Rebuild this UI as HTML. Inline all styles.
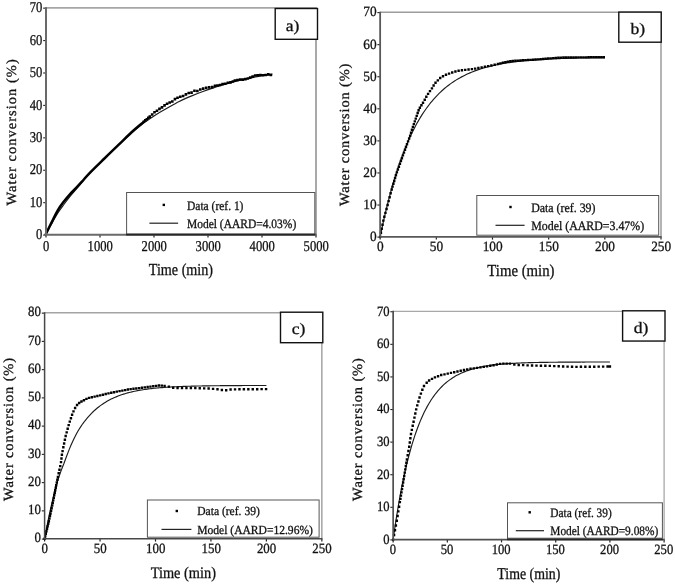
<!DOCTYPE html>
<html><head><meta charset="utf-8"><title>Water conversion vs time</title>
<style>
html,body{margin:0;padding:0;background:#fff;}
svg{display:block;font-family:"Liberation Serif", serif;text-rendering:geometricPrecision;}
</style></head>
<body>
<svg width="675" height="585" viewBox="0 0 675 585">
<rect width="675" height="585" fill="#fff"/>
<path d="M46.0,7.85H316.0V234.8" fill="none" stroke="#a6a6a6" stroke-width="1.9"/>
<path d="M43.20,235.10H46.0" stroke="#222" stroke-width="1.1"/>
<text transform="translate(42.30,239.30) scale(0.8400,1)" font-size="15.0" text-anchor="end" fill="#111" stroke="#111" stroke-width="0.3">0</text>
<path d="M43.20,202.68H46.0" stroke="#222" stroke-width="1.1"/>
<text transform="translate(42.30,206.88) scale(0.8400,1)" font-size="15.0" text-anchor="end" fill="#111" stroke="#111" stroke-width="0.3">10</text>
<path d="M43.20,170.26H46.0" stroke="#222" stroke-width="1.1"/>
<text transform="translate(42.30,174.46) scale(0.8400,1)" font-size="15.0" text-anchor="end" fill="#111" stroke="#111" stroke-width="0.3">20</text>
<path d="M43.20,137.84H46.0" stroke="#222" stroke-width="1.1"/>
<text transform="translate(42.30,142.04) scale(0.8400,1)" font-size="15.0" text-anchor="end" fill="#111" stroke="#111" stroke-width="0.3">30</text>
<path d="M43.20,105.41H46.0" stroke="#222" stroke-width="1.1"/>
<text transform="translate(42.30,109.61) scale(0.8400,1)" font-size="15.0" text-anchor="end" fill="#111" stroke="#111" stroke-width="0.3">40</text>
<path d="M43.20,72.99H46.0" stroke="#222" stroke-width="1.1"/>
<text transform="translate(42.30,77.19) scale(0.8400,1)" font-size="15.0" text-anchor="end" fill="#111" stroke="#111" stroke-width="0.3">50</text>
<path d="M43.20,40.57H46.0" stroke="#222" stroke-width="1.1"/>
<text transform="translate(42.30,44.77) scale(0.8400,1)" font-size="15.0" text-anchor="end" fill="#111" stroke="#111" stroke-width="0.3">60</text>
<path d="M43.20,8.15H46.0" stroke="#222" stroke-width="1.1"/>
<text transform="translate(42.30,12.35) scale(0.8400,1)" font-size="15.0" text-anchor="end" fill="#111" stroke="#111" stroke-width="0.3">70</text>
<path d="M46.00,234.8V237.60" stroke="#222" stroke-width="1.2"/>
<text transform="translate(46.20,250.90) scale(0.8400,1)" font-size="15.0" text-anchor="middle" fill="#111" stroke="#111" stroke-width="0.3">0</text>
<path d="M100.00,234.8V237.60" stroke="#222" stroke-width="1.2"/>
<text transform="translate(100.20,250.90) scale(0.8400,1)" font-size="15.0" text-anchor="middle" fill="#111" stroke="#111" stroke-width="0.3">1000</text>
<path d="M154.00,234.8V237.60" stroke="#222" stroke-width="1.2"/>
<text transform="translate(154.20,250.90) scale(0.8400,1)" font-size="15.0" text-anchor="middle" fill="#111" stroke="#111" stroke-width="0.3">2000</text>
<path d="M208.00,234.8V237.60" stroke="#222" stroke-width="1.2"/>
<text transform="translate(208.20,250.90) scale(0.8400,1)" font-size="15.0" text-anchor="middle" fill="#111" stroke="#111" stroke-width="0.3">3000</text>
<path d="M262.00,234.8V237.60" stroke="#222" stroke-width="1.2"/>
<text transform="translate(262.20,250.90) scale(0.8400,1)" font-size="15.0" text-anchor="middle" fill="#111" stroke="#111" stroke-width="0.3">4000</text>
<path d="M316.00,234.8V237.60" stroke="#222" stroke-width="1.2"/>
<text transform="translate(316.20,250.90) scale(0.8400,1)" font-size="15.0" text-anchor="middle" fill="#111" stroke="#111" stroke-width="0.3">5000</text>
<text transform="translate(180.90,275.45) scale(0.8429,1)" font-size="16.8" text-anchor="middle" fill="#111" stroke="#111" stroke-width="0.3">Time (min)</text>
<text transform="translate(16.40,205.60) rotate(-90) scale(1.0300,1)" font-size="14.0" text-anchor="start" fill="#111" stroke="#111" stroke-width="0.3" letter-spacing="1.031">Water conversion (%)</text>
<path d="M45.80,234.40C46.83,232.53 49.98,226.78 52.00,223.20C54.02,219.62 55.92,216.02 57.90,212.90C59.88,209.78 61.90,207.20 63.90,204.50C65.90,201.80 67.90,199.18 69.90,196.70C71.90,194.22 73.90,191.98 75.90,189.60C77.90,187.22 79.73,185.02 81.90,182.40C84.07,179.78 85.23,177.80 88.90,173.90C92.57,170.00 98.88,163.87 103.90,159.00C108.92,154.13 114.35,149.05 119.00,144.70C123.65,140.35 127.68,136.50 131.80,132.90C135.92,129.30 139.75,126.10 143.70,123.10C147.65,120.10 151.55,117.42 155.50,114.90C159.45,112.38 163.45,110.25 167.40,108.00C171.35,105.75 175.25,103.38 179.20,101.40C183.15,99.42 187.15,97.75 191.10,96.10C195.05,94.45 198.95,92.95 202.90,91.50C206.85,90.05 210.85,88.67 214.80,87.40C218.75,86.13 222.65,85.03 226.60,83.90C230.55,82.77 234.55,81.58 238.50,80.60C242.45,79.62 246.35,78.83 250.30,78.00C254.25,77.17 258.50,76.27 262.20,75.60C265.90,74.93 270.78,74.27 272.50,74.00" fill="none" stroke="#1c1c1c" stroke-width="1.15"/>
<path d="M45.80,234.20C46.83,232.10 49.98,225.62 52.00,221.60C54.02,217.58 55.92,213.45 57.90,210.10C59.88,206.75 61.90,204.13 63.90,201.50C65.90,198.87 67.90,196.52 69.90,194.30C71.90,192.08 73.90,190.30 75.90,188.20C77.90,186.10 79.73,184.10 81.90,181.70C84.07,179.30 85.23,177.58 88.90,173.80C92.57,170.02 98.88,163.90 103.90,159.00C108.92,154.10 114.35,148.90 119.00,144.40C123.65,139.90 127.68,135.75 131.80,132.00C135.92,128.25 141.72,123.58 143.70,121.90" fill="none" stroke="#000" stroke-width="2.5" stroke-linecap="round"/><path d="M142.51,120.44h2.6v2.6h-2.6zM144.01,119.06h2.6v2.6h-2.6zM145.51,117.95h2.6v2.6h-2.6zM147.01,116.41h2.6v2.6h-2.6zM148.51,115.28h2.6v2.6h-2.6zM150.85,113.17h2.6v2.6h-2.6zM153.20,111.00h2.6v2.6h-2.6zM155.64,109.38h2.6v2.6h-2.6zM158.17,107.58h2.6v2.6h-2.6zM160.70,106.07h2.6v2.6h-2.6zM163.24,104.06h2.6v2.6h-2.6zM165.77,102.46h2.6v2.6h-2.6zM168.40,101.27h2.6v2.6h-2.6zM171.02,100.18h2.6v2.6h-2.6zM173.65,97.87h2.6v2.6h-2.6zM176.27,96.45h2.6v2.6h-2.6zM178.99,95.49h2.6v2.6h-2.6zM181.81,94.68h2.6v2.6h-2.6zM184.62,93.12h2.6v2.6h-2.6zM187.44,91.76h2.6v2.6h-2.6zM190.25,91.31h2.6v2.6h-2.6zM193.16,89.52h2.6v2.6h-2.6zM196.07,89.65h2.6v2.6h-2.6zM198.97,88.26h2.6v2.6h-2.6zM201.88,87.34h2.6v2.6h-2.6zM204.88,86.57h2.6v2.6h-2.6zM207.88,86.04h2.6v2.6h-2.6zM210.89,85.85h2.6v2.6h-2.6zM213.70,84.44h2.6v2.6h-2.6zM216.23,84.24h2.6v2.6h-2.6zM218.77,83.67h2.6v2.6h-2.6zM221.30,82.74h2.6v2.6h-2.6zM223.92,82.41h2.6v2.6h-2.6zM226.55,81.47h2.6v2.6h-2.6zM229.18,81.05h2.6v2.6h-2.6zM231.52,80.15h2.6v2.6h-2.6zM233.59,79.23h2.6v2.6h-2.6zM236.21,78.67h2.6v2.6h-2.6zM238.84,78.27h2.6v2.6h-2.6zM241.47,78.29h2.6v2.6h-2.6zM244.09,77.86h2.6v2.6h-2.6zM246.62,77.16h2.6v2.6h-2.6zM248.88,76.33h2.6v2.6h-2.6zM251.31,75.31h2.6v2.6h-2.6zM253.85,74.16h2.6v2.6h-2.6zM256.47,74.02h2.6v2.6h-2.6zM259.10,73.77h2.6v2.6h-2.6zM261.73,73.96h2.6v2.6h-2.6zM264.35,73.63h2.6v2.6h-2.6zM266.98,73.08h2.6v2.6h-2.6zM269.61,73.77h2.6v2.6h-2.6z" fill="#000"/>
<path d="M46.0,7.25V234.8H316.6" fill="none" stroke="#6a6a6a" stroke-width="2.0"/>
<rect x="126.6" y="192.5" width="188.20" height="41.50" fill="#fff" stroke="#555" stroke-width="1"/>
<path d="M126.1,234.60H315.3" stroke="#262626" stroke-width="1.7"/>
<rect x="162.60" y="203.70" width="2.4" height="2.4" fill="#000"/>
<path d="M149.4,223.2H178.1" stroke="#222" stroke-width="1.2"/>
<text transform="translate(187.00,209.60) scale(0.8912,1)" font-size="12.9" text-anchor="start" fill="#111" stroke="#111" stroke-width="0.3">Data (ref. 1)</text>
<text transform="translate(187.00,228.10) scale(0.8912,1)" font-size="12.9" text-anchor="start" fill="#111" stroke="#111" stroke-width="0.3">Model (AARD=4.03%)</text>
<rect x="275.2" y="8.5" width="42.30" height="30.80" fill="#fff" stroke="#111" stroke-width="1.4"/>
<text transform="translate(285.80,31.00) scale(1.1000,1)" font-size="16.0" text-anchor="start" fill="#111" stroke="#111" stroke-width="0.3">a)</text>
<path d="M380.15,12.3H661.0V236.8" fill="none" stroke="#9c9c9c" stroke-width="1.5"/>
<path d="M377.35,237.10H380.15" stroke="#222" stroke-width="1.1"/>
<text transform="translate(376.55,240.99) scale(0.9400,1)" font-size="14.2" text-anchor="end" fill="#111" stroke="#111" stroke-width="0.3">0</text>
<path d="M377.35,205.03H380.15" stroke="#222" stroke-width="1.1"/>
<text transform="translate(376.55,208.91) scale(0.9400,1)" font-size="14.2" text-anchor="end" fill="#111" stroke="#111" stroke-width="0.3">10</text>
<path d="M377.35,172.96H380.15" stroke="#222" stroke-width="1.1"/>
<text transform="translate(376.55,176.84) scale(0.9400,1)" font-size="14.2" text-anchor="end" fill="#111" stroke="#111" stroke-width="0.3">20</text>
<path d="M377.35,140.89H380.15" stroke="#222" stroke-width="1.1"/>
<text transform="translate(376.55,144.77) scale(0.9400,1)" font-size="14.2" text-anchor="end" fill="#111" stroke="#111" stroke-width="0.3">30</text>
<path d="M377.35,108.81H380.15" stroke="#222" stroke-width="1.1"/>
<text transform="translate(376.55,112.70) scale(0.9400,1)" font-size="14.2" text-anchor="end" fill="#111" stroke="#111" stroke-width="0.3">40</text>
<path d="M377.35,76.74H380.15" stroke="#222" stroke-width="1.1"/>
<text transform="translate(376.55,80.63) scale(0.9400,1)" font-size="14.2" text-anchor="end" fill="#111" stroke="#111" stroke-width="0.3">50</text>
<path d="M377.35,44.67H380.15" stroke="#222" stroke-width="1.1"/>
<text transform="translate(376.55,48.56) scale(0.9400,1)" font-size="14.2" text-anchor="end" fill="#111" stroke="#111" stroke-width="0.3">60</text>
<path d="M377.35,12.60H380.15" stroke="#222" stroke-width="1.1"/>
<text transform="translate(376.55,16.49) scale(0.9400,1)" font-size="14.2" text-anchor="end" fill="#111" stroke="#111" stroke-width="0.3">70</text>
<path d="M380.15,236.8V239.60" stroke="#222" stroke-width="1.2"/>
<text transform="translate(380.35,251.20) scale(0.9400,1)" font-size="14.2" text-anchor="middle" fill="#111" stroke="#111" stroke-width="0.3">0</text>
<path d="M436.32,236.8V239.60" stroke="#222" stroke-width="1.2"/>
<text transform="translate(436.52,251.20) scale(0.9400,1)" font-size="14.2" text-anchor="middle" fill="#111" stroke="#111" stroke-width="0.3">50</text>
<path d="M492.49,236.8V239.60" stroke="#222" stroke-width="1.2"/>
<text transform="translate(492.69,251.20) scale(0.9400,1)" font-size="14.2" text-anchor="middle" fill="#111" stroke="#111" stroke-width="0.3">100</text>
<path d="M548.66,236.8V239.60" stroke="#222" stroke-width="1.2"/>
<text transform="translate(548.86,251.20) scale(0.9400,1)" font-size="14.2" text-anchor="middle" fill="#111" stroke="#111" stroke-width="0.3">150</text>
<path d="M604.83,236.8V239.60" stroke="#222" stroke-width="1.2"/>
<text transform="translate(605.03,251.20) scale(0.9400,1)" font-size="14.2" text-anchor="middle" fill="#111" stroke="#111" stroke-width="0.3">200</text>
<path d="M661.00,236.8V239.60" stroke="#222" stroke-width="1.2"/>
<text transform="translate(661.20,251.20) scale(0.9400,1)" font-size="14.2" text-anchor="middle" fill="#111" stroke="#111" stroke-width="0.3">250</text>
<text transform="translate(520.90,276.30) scale(0.8806,1)" font-size="16.8" text-anchor="middle" fill="#111" stroke="#111" stroke-width="0.3">Time (min)</text>
<text transform="translate(349.00,206.00) rotate(-90) scale(1.0300,1)" font-size="14.0" text-anchor="start" fill="#111" stroke="#111" stroke-width="0.3" letter-spacing="0.826">Water conversion (%)</text>
<path d="M380.15,236.80L381.55,230.08L382.96,223.61L384.36,217.39L385.77,211.40L387.17,205.63L388.58,200.08L389.98,194.73L391.38,189.59L392.79,184.64L394.19,179.87L395.60,175.28L397.00,170.86L398.41,166.61L399.81,162.52L401.21,158.58L402.62,154.79L404.02,151.14L405.43,147.62L406.83,144.24L408.23,140.98L409.64,137.85L411.04,134.83L412.45,131.93L413.85,129.13L415.26,126.44L416.66,123.85L418.06,121.36L419.47,118.96L420.87,116.65L422.28,114.42L423.68,112.28L425.09,110.22L426.49,108.24L427.89,106.33L429.30,104.49L430.70,102.72L432.11,101.02L433.51,99.38L434.92,97.80L436.32,96.28L437.72,94.82L439.13,93.42L440.53,92.06L441.94,90.76L443.34,89.50L444.75,88.29L446.15,87.13L447.55,86.01L448.96,84.93L450.36,83.90L451.77,82.90L453.17,81.94L454.58,81.01L455.98,80.12L457.38,79.26L458.79,78.44L460.19,77.64L461.60,76.88L463.00,76.14L464.40,75.43L465.81,74.75L467.21,74.09L468.62,73.46L470.02,72.85L471.43,72.27L472.83,71.70L474.23,71.16L475.64,70.64L477.04,70.14L478.45,69.65L479.85,69.19L481.26,68.74L482.66,68.31L484.06,67.89L485.47,67.49L486.87,67.11L488.28,66.74L489.68,66.38L491.09,66.04L492.49,65.71L493.89,65.39L495.30,65.08L496.70,64.79L498.11,64.50L499.51,64.23L500.92,63.97L502.32,63.71L503.72,63.47L505.13,63.24L506.53,63.01L507.94,62.79L509.34,62.58L510.75,62.38L512.15,62.19L513.55,62.00L514.96,61.82L516.36,61.65L517.77,61.48L519.17,61.32L520.58,61.17L521.98,61.02L523.38,60.88L524.79,60.74L526.19,60.61L527.60,60.48L529.00,60.36L530.40,60.24L531.81,60.12L533.21,60.02L534.62,59.91L536.02,59.81L537.43,59.71L538.83,59.62L540.23,59.53L541.64,59.44L543.04,59.36L544.45,59.28L545.85,59.20L547.26,59.12L548.66,59.05L550.06,58.98L551.47,58.92L552.87,58.85L554.28,58.79L555.68,58.73L557.09,58.67L558.49,58.62L559.89,58.56L561.30,58.51L562.70,58.46L564.11,58.42L565.51,58.37L566.92,58.33L568.32,58.29L569.72,58.24L571.13,58.21L572.53,58.17L573.94,58.13L575.34,58.10L576.75,58.06L578.15,58.03L579.55,58.00L580.96,57.97L582.36,57.94L583.77,57.91L585.17,57.89L586.57,57.86L587.98,57.84L589.38,57.81L590.79,57.79L592.19,57.77L593.60,57.75L595.00,57.73L596.40,57.71L597.81,57.69L599.21,57.67L600.62,57.65L602.02,57.63L603.43,57.62L604.83,57.60" fill="none" stroke="#1c1c1c" stroke-width="1.15"/>
<path d="M378.95,235.60h2.4v2.4h-2.4zM379.74,231.56h2.4v2.4h-2.4zM380.52,227.52h2.4v2.4h-2.4zM381.31,223.48h2.4v2.4h-2.4zM382.10,219.44h2.4v2.4h-2.4zM383.11,215.55h2.4v2.4h-2.4zM384.23,211.64h2.4v2.4h-2.4zM385.35,207.73h2.4v2.4h-2.4zM386.42,203.82h2.4v2.4h-2.4zM387.43,199.92h2.4v2.4h-2.4zM388.44,196.02h2.4v2.4h-2.4zM389.45,192.12h2.4v2.4h-2.4zM390.52,188.23h2.4v2.4h-2.4zM391.36,185.39h2.4v2.4h-2.4zM392.21,182.56h2.4v2.4h-2.4zM393.05,179.73h2.4v2.4h-2.4zM393.89,176.90h2.4v2.4h-2.4zM394.73,174.06h2.4v2.4h-2.4zM395.69,171.17h2.4v2.4h-2.4zM396.70,168.34h2.4v2.4h-2.4zM397.71,165.51h2.4v2.4h-2.4zM398.72,162.69h2.4v2.4h-2.4zM399.73,159.86h2.4v2.4h-2.4zM400.74,157.03h2.4v2.4h-2.4zM401.76,154.22h2.4v2.4h-2.4zM402.77,151.40h2.4v2.4h-2.4zM403.78,148.59h2.4v2.4h-2.4zM404.79,145.78h2.4v2.4h-2.4zM405.80,143.03h2.4v2.4h-2.4zM406.87,140.18h2.4v2.4h-2.4zM407.93,137.32h2.4v2.4h-2.4zM408.94,134.48h2.4v2.4h-2.4zM409.84,131.53h2.4v2.4h-2.4zM410.74,128.58h2.4v2.4h-2.4zM411.70,125.72h2.4v2.4h-2.4zM412.65,122.95h2.4v2.4h-2.4zM413.61,120.18h2.4v2.4h-2.4zM414.56,117.41h2.4v2.4h-2.4zM415.52,114.64h2.4v2.4h-2.4zM416.47,111.87h2.4v2.4h-2.4zM417.43,109.10h2.4v2.4h-2.4zM418.66,106.48h2.4v2.4h-2.4zM420.23,103.98h2.4v2.4h-2.4zM421.81,101.49h2.4v2.4h-2.4zM423.55,98.55h2.4v2.4h-2.4zM425.12,95.58h2.4v2.4h-2.4zM426.86,92.68h2.4v2.4h-2.4zM428.77,89.92h2.4v2.4h-2.4zM430.74,87.18h2.4v2.4h-2.4zM432.42,84.33h2.4v2.4h-2.4zM434.33,81.58h2.4v2.4h-2.4zM436.64,79.16h2.4v2.4h-2.4zM439.00,76.81h2.4v2.4h-2.4zM441.80,75.05h2.4v2.4h-2.4zM444.78,73.56h2.4v2.4h-2.4zM447.87,72.40h2.4v2.4h-2.4zM451.02,71.31h2.4v2.4h-2.4zM454.22,70.32h2.4v2.4h-2.4zM457.42,69.48h2.4v2.4h-2.4zM460.73,69.07h2.4v2.4h-2.4zM464.05,68.68h2.4v2.4h-2.4zM467.36,68.32h2.4v2.4h-2.4zM470.68,67.96h2.4v2.4h-2.4zM473.93,67.44h2.4v2.4h-2.4zM477.19,66.85h2.4v2.4h-2.4zM480.45,66.27h2.4v2.4h-2.4zM483.71,65.60h2.4v2.4h-2.4zM486.96,64.92h2.4v2.4h-2.4zM490.22,64.25h2.4v2.4h-2.4zM493.48,63.55h2.4v2.4h-2.4zM496.74,62.76h2.4v2.4h-2.4zM499.21,62.16h2.4v2.4h-2.4zM501.68,61.62h2.4v2.4h-2.4zM504.15,61.09h2.4v2.4h-2.4zM506.62,60.56h2.4v2.4h-2.4zM509.10,60.03h2.4v2.4h-2.4zM511.62,59.74h2.4v2.4h-2.4zM514.15,59.59h2.4v2.4h-2.4zM516.68,59.43h2.4v2.4h-2.4zM519.21,59.27h2.4v2.4h-2.4zM521.73,59.12h2.4v2.4h-2.4zM524.26,58.96h2.4v2.4h-2.4zM526.79,58.80h2.4v2.4h-2.4zM529.32,58.64h2.4v2.4h-2.4zM531.84,58.48h2.4v2.4h-2.4zM534.37,58.32h2.4v2.4h-2.4zM536.90,58.16h2.4v2.4h-2.4zM539.43,58.01h2.4v2.4h-2.4zM541.96,57.81h2.4v2.4h-2.4zM544.48,57.59h2.4v2.4h-2.4zM547.01,57.36h2.4v2.4h-2.4zM549.54,57.13h2.4v2.4h-2.4zM552.07,56.92h2.4v2.4h-2.4zM554.59,56.77h2.4v2.4h-2.4zM557.12,56.62h2.4v2.4h-2.4zM559.65,56.47h2.4v2.4h-2.4zM562.18,56.32h2.4v2.4h-2.4zM564.70,56.30h2.4v2.4h-2.4zM567.23,56.28h2.4v2.4h-2.4zM569.76,56.26h2.4v2.4h-2.4zM572.29,56.24h2.4v2.4h-2.4zM574.81,56.22h2.4v2.4h-2.4zM577.34,56.20h2.4v2.4h-2.4zM579.87,56.18h2.4v2.4h-2.4zM582.40,56.16h2.4v2.4h-2.4zM584.93,56.14h2.4v2.4h-2.4zM587.45,56.12h2.4v2.4h-2.4zM589.98,56.11h2.4v2.4h-2.4zM592.51,56.09h2.4v2.4h-2.4zM595.04,56.07h2.4v2.4h-2.4zM597.56,56.05h2.4v2.4h-2.4zM600.09,56.03h2.4v2.4h-2.4zM602.62,56.01h2.4v2.4h-2.4z" fill="#000"/>
<path d="M380.15,11.700000000000001V236.8H661.6" fill="none" stroke="#585858" stroke-width="1.8"/>
<rect x="476.8" y="195.5" width="181.90" height="39.70" fill="#fff" stroke="#555" stroke-width="1"/>
<rect x="509.30" y="205.80" width="2.4" height="2.4" fill="#000"/>
<path d="M495.5,225.3H524.6" stroke="#222" stroke-width="1.2"/>
<text transform="translate(531.20,211.60) scale(0.9214,1)" font-size="12.9" text-anchor="start" fill="#111" stroke="#111" stroke-width="0.3">Data (ref. 39)</text>
<text transform="translate(531.20,229.90) scale(0.9214,1)" font-size="12.9" text-anchor="start" fill="#111" stroke="#111" stroke-width="0.3">Model (AARD=3.47%)</text>
<rect x="618.8" y="12.1" width="42.40" height="30.10" fill="#fff" stroke="#111" stroke-width="1.4"/>
<text transform="translate(630.50,34.20) scale(1.1000,1)" font-size="16.0" text-anchor="start" fill="#111" stroke="#111" stroke-width="0.3">b)</text>
<path d="M44.6,312.85H321.85V538.8" fill="none" stroke="#a4a4a4" stroke-width="1.5"/>
<path d="M41.80,539.10H44.6" stroke="#222" stroke-width="1.1"/>
<text transform="translate(40.95,542.34) scale(0.9100,1)" font-size="14.2" text-anchor="end" fill="#111" stroke="#111" stroke-width="0.3">0</text>
<path d="M41.80,510.86H44.6" stroke="#222" stroke-width="1.1"/>
<text transform="translate(40.95,514.09) scale(0.9100,1)" font-size="14.2" text-anchor="end" fill="#111" stroke="#111" stroke-width="0.3">10</text>
<path d="M41.80,482.61H44.6" stroke="#222" stroke-width="1.1"/>
<text transform="translate(40.95,485.85) scale(0.9100,1)" font-size="14.2" text-anchor="end" fill="#111" stroke="#111" stroke-width="0.3">20</text>
<path d="M41.80,454.37H44.6" stroke="#222" stroke-width="1.1"/>
<text transform="translate(40.95,457.60) scale(0.9100,1)" font-size="14.2" text-anchor="end" fill="#111" stroke="#111" stroke-width="0.3">30</text>
<path d="M41.80,426.12H44.6" stroke="#222" stroke-width="1.1"/>
<text transform="translate(40.95,429.36) scale(0.9100,1)" font-size="14.2" text-anchor="end" fill="#111" stroke="#111" stroke-width="0.3">40</text>
<path d="M41.80,397.88H44.6" stroke="#222" stroke-width="1.1"/>
<text transform="translate(40.95,401.12) scale(0.9100,1)" font-size="14.2" text-anchor="end" fill="#111" stroke="#111" stroke-width="0.3">50</text>
<path d="M41.80,369.64H44.6" stroke="#222" stroke-width="1.1"/>
<text transform="translate(40.95,372.87) scale(0.9100,1)" font-size="14.2" text-anchor="end" fill="#111" stroke="#111" stroke-width="0.3">60</text>
<path d="M41.80,341.39H44.6" stroke="#222" stroke-width="1.1"/>
<text transform="translate(40.95,344.63) scale(0.9100,1)" font-size="14.2" text-anchor="end" fill="#111" stroke="#111" stroke-width="0.3">70</text>
<path d="M41.80,313.15H44.6" stroke="#222" stroke-width="1.1"/>
<text transform="translate(40.95,316.39) scale(0.9100,1)" font-size="14.2" text-anchor="end" fill="#111" stroke="#111" stroke-width="0.3">80</text>
<path d="M44.60,538.8V541.60" stroke="#222" stroke-width="1.2"/>
<text transform="translate(44.80,553.35) scale(0.9100,1)" font-size="14.2" text-anchor="middle" fill="#111" stroke="#111" stroke-width="0.3">0</text>
<path d="M100.05,538.8V541.60" stroke="#222" stroke-width="1.2"/>
<text transform="translate(100.25,553.35) scale(0.9100,1)" font-size="14.2" text-anchor="middle" fill="#111" stroke="#111" stroke-width="0.3">50</text>
<path d="M155.50,538.8V541.60" stroke="#222" stroke-width="1.2"/>
<text transform="translate(155.70,553.35) scale(0.9100,1)" font-size="14.2" text-anchor="middle" fill="#111" stroke="#111" stroke-width="0.3">100</text>
<path d="M210.95,538.8V541.60" stroke="#222" stroke-width="1.2"/>
<text transform="translate(211.15,553.35) scale(0.9100,1)" font-size="14.2" text-anchor="middle" fill="#111" stroke="#111" stroke-width="0.3">150</text>
<path d="M266.40,538.8V541.60" stroke="#222" stroke-width="1.2"/>
<text transform="translate(266.60,553.35) scale(0.9100,1)" font-size="14.2" text-anchor="middle" fill="#111" stroke="#111" stroke-width="0.3">200</text>
<path d="M321.85,538.8V541.60" stroke="#222" stroke-width="1.2"/>
<text transform="translate(322.05,553.35) scale(0.9100,1)" font-size="14.2" text-anchor="middle" fill="#111" stroke="#111" stroke-width="0.3">250</text>
<text transform="translate(183.30,578.10) scale(0.8863,1)" font-size="16.2" text-anchor="middle" fill="#111" stroke="#111" stroke-width="0.3">Time (min)</text>
<text transform="translate(12.60,500.90) rotate(-90) scale(1.0300,1)" font-size="14.0" text-anchor="start" fill="#111" stroke="#111" stroke-width="0.3" letter-spacing="0.857">Water conversion (%)</text>
<path d="M44.60,538.80L45.99,531.27L47.37,524.10L48.76,517.29L50.15,510.81L51.53,504.65L52.92,498.80L54.30,493.23L55.69,487.93L57.08,482.90L58.46,478.30L59.85,474.21L61.23,470.36L62.62,466.71L64.01,463.27L65.39,459.56L66.78,455.74L68.17,452.09L69.55,448.61L70.94,445.34L72.33,442.24L73.71,439.29L75.10,436.47L76.48,433.78L77.87,431.21L79.26,428.97L80.64,426.83L82.03,424.79L83.41,422.86L84.80,421.02L86.19,419.27L87.57,417.61L88.96,416.03L90.35,414.53L91.73,413.10L93.12,411.74L94.50,410.45L95.89,409.22L97.28,408.05L98.66,406.94L100.05,405.88L101.44,404.88L102.82,403.92L104.21,403.02L105.59,402.15L106.98,401.33L108.37,400.55L109.75,399.81L111.14,399.10L112.53,398.43L113.91,397.79L115.30,397.18L116.69,396.61L118.07,396.06L119.46,395.54L120.84,395.04L122.23,394.57L123.62,394.12L125.00,393.69L126.39,393.29L127.78,392.90L129.16,392.54L130.55,392.19L131.93,391.85L133.32,391.54L134.71,391.24L136.09,390.95L137.48,390.68L138.87,390.43L140.25,390.18L141.64,389.95L143.02,389.73L144.41,389.52L145.80,389.31L147.18,389.12L148.57,388.94L149.96,388.77L151.34,388.61L152.73,388.45L154.11,388.30L155.50,388.16L156.89,388.03L158.27,387.90L159.66,387.78L161.04,387.66L162.43,387.56L163.82,387.45L165.20,387.35L166.59,387.26L167.98,387.17L169.36,387.08L170.75,387.00L172.13,386.93L173.52,386.85L174.91,386.78L176.29,386.72L177.68,386.65L179.07,386.59L180.45,386.54L181.84,386.48L183.22,386.43L184.61,386.38L186.00,386.34L187.38,386.29L188.77,386.25L190.16,386.21L191.54,386.17L192.93,386.14L194.31,386.10L195.70,386.07L197.09,386.04L198.47,386.01L199.86,385.98L201.25,385.95L202.63,385.93L204.02,385.90L205.41,385.88L206.79,385.86L208.18,385.84L209.56,385.82L210.95,385.80L212.34,385.78L213.72,385.77L215.11,385.75L216.50,385.73L217.88,385.72L219.27,385.71L220.65,385.69L222.04,385.68L223.43,385.67L224.81,385.66L226.20,385.65L227.59,385.63L228.97,385.63L230.36,385.62L231.74,385.61L233.13,385.60L234.52,385.59L235.90,385.58L237.29,385.58L238.67,385.57L240.06,385.56L241.45,385.56L242.83,385.55L244.22,385.54L245.61,385.54L246.99,385.53L248.38,385.53L249.76,385.53L251.15,385.52L252.54,385.52L253.92,385.51L255.31,385.51L256.70,385.51L258.08,385.50L259.47,385.50L260.86,385.50L262.24,385.49L263.63,385.49L265.01,385.49L266.40,385.48" fill="none" stroke="#1c1c1c" stroke-width="1.15"/>
<path d="M43.40,537.60h2.4v2.4h-2.4zM44.01,535.09h2.4v2.4h-2.4zM44.62,532.58h2.4v2.4h-2.4zM45.23,530.07h2.4v2.4h-2.4zM45.84,527.56h2.4v2.4h-2.4zM46.45,525.05h2.4v2.4h-2.4zM47.06,522.54h2.4v2.4h-2.4zM47.67,520.03h2.4v2.4h-2.4zM48.22,517.46h2.4v2.4h-2.4zM48.78,514.85h2.4v2.4h-2.4zM49.33,512.24h2.4v2.4h-2.4zM49.89,509.63h2.4v2.4h-2.4zM50.44,507.02h2.4v2.4h-2.4zM51.00,504.41h2.4v2.4h-2.4zM51.55,501.73h2.4v2.4h-2.4zM52.05,499.19h2.4v2.4h-2.4zM52.55,496.65h2.4v2.4h-2.4zM53.05,494.10h2.4v2.4h-2.4zM53.55,491.56h2.4v2.4h-2.4zM54.05,489.02h2.4v2.4h-2.4zM54.55,486.48h2.4v2.4h-2.4zM55.04,483.98h2.4v2.4h-2.4zM55.60,481.28h2.4v2.4h-2.4zM56.15,478.57h2.4v2.4h-2.4zM56.71,475.86h2.4v2.4h-2.4zM57.48,472.07h2.4v2.4h-2.4zM58.26,468.52h2.4v2.4h-2.4zM59.04,464.96h2.4v2.4h-2.4zM59.81,460.97h2.4v2.4h-2.4zM60.26,457.25h2.4v2.4h-2.4zM60.70,453.52h2.4v2.4h-2.4zM61.37,449.89h2.4v2.4h-2.4zM62.14,446.12h2.4v2.4h-2.4zM62.92,442.34h2.4v2.4h-2.4zM63.69,438.57h2.4v2.4h-2.4zM64.47,434.79h2.4v2.4h-2.4zM65.47,431.18h2.4v2.4h-2.4zM66.47,427.58h2.4v2.4h-2.4zM67.47,423.97h2.4v2.4h-2.4zM68.57,420.41h2.4v2.4h-2.4zM69.74,417.00h2.4v2.4h-2.4zM70.90,413.58h2.4v2.4h-2.4zM72.29,410.15h2.4v2.4h-2.4zM73.90,406.85h2.4v2.4h-2.4zM75.84,403.80h2.4v2.4h-2.4zM77.95,401.85h2.4v2.4h-2.4zM80.27,400.33h2.4v2.4h-2.4zM82.77,399.01h2.4v2.4h-2.4zM85.26,397.68h2.4v2.4h-2.4zM87.87,396.67h2.4v2.4h-2.4zM90.64,396.06h2.4v2.4h-2.4zM93.42,395.44h2.4v2.4h-2.4zM96.19,394.81h2.4v2.4h-2.4zM98.96,394.15h2.4v2.4h-2.4zM101.73,393.49h2.4v2.4h-2.4zM104.51,392.82h2.4v2.4h-2.4zM107.28,392.16h2.4v2.4h-2.4zM110.05,391.52h2.4v2.4h-2.4zM112.82,390.99h2.4v2.4h-2.4zM115.60,390.46h2.4v2.4h-2.4zM118.37,389.94h2.4v2.4h-2.4zM121.14,389.41h2.4v2.4h-2.4zM123.91,388.89h2.4v2.4h-2.4zM126.69,388.36h2.4v2.4h-2.4zM129.46,387.95h2.4v2.4h-2.4zM132.29,387.59h2.4v2.4h-2.4zM135.11,387.24h2.4v2.4h-2.4zM137.94,386.88h2.4v2.4h-2.4zM140.77,386.52h2.4v2.4h-2.4zM143.60,386.16h2.4v2.4h-2.4zM146.43,385.80h2.4v2.4h-2.4zM149.25,385.44h2.4v2.4h-2.4zM152.08,385.08h2.4v2.4h-2.4zM154.91,384.72h2.4v2.4h-2.4zM157.74,384.36h2.4v2.4h-2.4zM160.57,384.39h2.4v2.4h-2.4zM163.39,384.63h2.4v2.4h-2.4zM167.72,385.41h2.4v2.4h-2.4zM171.99,386.53h2.4v2.4h-2.4zM176.37,386.78h2.4v2.4h-2.4zM180.81,386.78h2.4v2.4h-2.4zM185.24,386.78h2.4v2.4h-2.4zM189.68,386.78h2.4v2.4h-2.4zM194.11,386.89h2.4v2.4h-2.4zM198.55,387.04h2.4v2.4h-2.4zM202.99,387.19h2.4v2.4h-2.4zM207.42,387.34h2.4v2.4h-2.4zM211.86,387.71h2.4v2.4h-2.4zM216.29,388.09h2.4v2.4h-2.4zM220.67,388.83h2.4v2.4h-2.4zM225.00,388.99h2.4v2.4h-2.4zM229.38,388.25h2.4v2.4h-2.4zM233.82,388.16h2.4v2.4h-2.4zM238.25,388.12h2.4v2.4h-2.4zM242.69,388.09h2.4v2.4h-2.4zM247.12,388.05h2.4v2.4h-2.4zM251.56,388.02h2.4v2.4h-2.4zM256.00,387.98h2.4v2.4h-2.4zM260.43,387.95h2.4v2.4h-2.4zM264.87,387.91h2.4v2.4h-2.4z" fill="#000"/>
<path d="M44.6,312.25V538.8H322.45000000000005" fill="none" stroke="#484848" stroke-width="1.5"/>
<rect x="147.4" y="500.0" width="171.70" height="37.20" fill="#fff" stroke="#555" stroke-width="1"/>
<rect x="175.60" y="509.80" width="2.4" height="2.4" fill="#000"/>
<path d="M161.5,529.4H191.4" stroke="#222" stroke-width="1.2"/>
<text transform="translate(197.20,515.10) scale(0.9332,1)" font-size="12.4" text-anchor="start" fill="#111" stroke="#111" stroke-width="0.3">Data (ref. 39)</text>
<text transform="translate(197.20,533.80) scale(0.9332,1)" font-size="12.4" text-anchor="start" fill="#111" stroke="#111" stroke-width="0.3">Model (AARD=12.96%)</text>
<rect x="280.5" y="312.2" width="42.30" height="30.50" fill="#fff" stroke="#111" stroke-width="1.4"/>
<text transform="translate(291.80,334.20) scale(1.1000,1)" font-size="16.0" text-anchor="start" fill="#111" stroke="#111" stroke-width="0.3">c)</text>
<path d="M393.15,311.45H664.1V539.6" fill="none" stroke="#a8a8a8" stroke-width="1.3"/>
<path d="M390.35,539.90H393.15" stroke="#222" stroke-width="1.1"/>
<text transform="translate(389.55,543.74) scale(0.8900,1)" font-size="14.2" text-anchor="end" fill="#111" stroke="#111" stroke-width="0.3">0</text>
<path d="M390.35,507.31H393.15" stroke="#222" stroke-width="1.1"/>
<text transform="translate(389.55,511.14) scale(0.8900,1)" font-size="14.2" text-anchor="end" fill="#111" stroke="#111" stroke-width="0.3">10</text>
<path d="M390.35,474.71H393.15" stroke="#222" stroke-width="1.1"/>
<text transform="translate(389.55,478.55) scale(0.8900,1)" font-size="14.2" text-anchor="end" fill="#111" stroke="#111" stroke-width="0.3">20</text>
<path d="M390.35,442.12H393.15" stroke="#222" stroke-width="1.1"/>
<text transform="translate(389.55,445.96) scale(0.8900,1)" font-size="14.2" text-anchor="end" fill="#111" stroke="#111" stroke-width="0.3">30</text>
<path d="M390.35,409.53H393.15" stroke="#222" stroke-width="1.1"/>
<text transform="translate(389.55,413.36) scale(0.8900,1)" font-size="14.2" text-anchor="end" fill="#111" stroke="#111" stroke-width="0.3">40</text>
<path d="M390.35,376.94H393.15" stroke="#222" stroke-width="1.1"/>
<text transform="translate(389.55,380.77) scale(0.8900,1)" font-size="14.2" text-anchor="end" fill="#111" stroke="#111" stroke-width="0.3">50</text>
<path d="M390.35,344.34H393.15" stroke="#222" stroke-width="1.1"/>
<text transform="translate(389.55,348.18) scale(0.8900,1)" font-size="14.2" text-anchor="end" fill="#111" stroke="#111" stroke-width="0.3">60</text>
<path d="M390.35,311.75H393.15" stroke="#222" stroke-width="1.1"/>
<text transform="translate(389.55,315.59) scale(0.8900,1)" font-size="14.2" text-anchor="end" fill="#111" stroke="#111" stroke-width="0.3">70</text>
<path d="M393.15,539.6V542.40" stroke="#222" stroke-width="1.2"/>
<text transform="translate(392.80,554.15) scale(0.8900,1)" font-size="14.2" text-anchor="middle" fill="#111" stroke="#111" stroke-width="0.3">0</text>
<path d="M447.34,539.6V542.40" stroke="#222" stroke-width="1.2"/>
<text transform="translate(446.99,554.15) scale(0.8900,1)" font-size="14.2" text-anchor="middle" fill="#111" stroke="#111" stroke-width="0.3">50</text>
<path d="M501.53,539.6V542.40" stroke="#222" stroke-width="1.2"/>
<text transform="translate(501.18,554.15) scale(0.8900,1)" font-size="14.2" text-anchor="middle" fill="#111" stroke="#111" stroke-width="0.3">100</text>
<path d="M555.72,539.6V542.40" stroke="#222" stroke-width="1.2"/>
<text transform="translate(555.37,554.15) scale(0.8900,1)" font-size="14.2" text-anchor="middle" fill="#111" stroke="#111" stroke-width="0.3">150</text>
<path d="M609.91,539.6V542.40" stroke="#222" stroke-width="1.2"/>
<text transform="translate(609.56,554.15) scale(0.8900,1)" font-size="14.2" text-anchor="middle" fill="#111" stroke="#111" stroke-width="0.3">200</text>
<path d="M664.10,539.6V542.40" stroke="#222" stroke-width="1.2"/>
<text transform="translate(663.75,554.15) scale(0.8900,1)" font-size="14.2" text-anchor="middle" fill="#111" stroke="#111" stroke-width="0.3">250</text>
<text transform="translate(528.80,579.30) scale(0.8449,1)" font-size="16.4" text-anchor="middle" fill="#111" stroke="#111" stroke-width="0.3">Time (min)</text>
<text transform="translate(362.30,500.90) rotate(-90) scale(1.0300,1)" font-size="14.0" text-anchor="start" fill="#111" stroke="#111" stroke-width="0.3" letter-spacing="0.842">Water conversion (%)</text>
<path d="M393.15,539.60L394.50,530.09L395.86,521.10L397.21,512.58L398.57,504.52L399.92,496.89L401.28,489.67L402.63,482.84L403.99,476.37L405.34,470.25L406.70,464.45L408.05,458.97L409.41,453.78L410.76,448.86L412.12,444.21L413.47,439.81L414.83,435.65L416.18,431.70L417.54,427.97L418.89,424.44L420.25,421.10L421.60,417.93L422.95,414.94L424.31,412.10L425.66,409.42L427.02,406.88L428.37,404.48L429.73,402.20L431.08,400.05L432.44,398.01L433.79,396.08L435.15,394.26L436.50,392.53L437.86,390.89L439.21,389.35L440.57,387.88L441.92,386.49L443.28,385.18L444.63,383.94L445.99,382.76L447.34,381.65L448.69,380.60L450.05,379.60L451.40,378.66L452.76,377.76L454.11,376.92L455.47,376.12L456.82,375.36L458.18,374.64L459.53,373.97L460.89,373.32L462.24,372.72L463.60,372.14L464.95,371.60L466.31,371.08L467.66,370.59L469.02,370.13L470.37,369.70L471.73,369.28L473.08,368.89L474.44,368.52L475.79,368.17L477.14,367.84L478.50,367.52L479.85,367.23L481.21,366.95L482.56,366.68L483.92,366.43L485.27,366.19L486.63,365.96L487.98,365.75L489.34,365.55L490.69,365.36L492.05,365.17L493.40,365.00L494.76,364.84L496.11,364.69L497.47,364.54L498.82,364.40L500.18,364.27L501.53,364.15L502.88,364.03L504.24,363.92L505.59,363.82L506.95,363.72L508.30,363.63L509.66,363.54L511.01,363.45L512.37,363.37L513.72,363.30L515.08,363.23L516.43,363.16L517.79,363.10L519.14,363.04L520.50,362.98L521.85,362.92L523.21,362.87L524.56,362.83L525.92,362.78L527.27,362.74L528.62,362.69L529.98,362.66L531.33,362.62L532.69,362.58L534.04,362.55L535.40,362.52L536.75,362.49L538.11,362.46L539.46,362.44L540.82,362.41L542.17,362.39L543.53,362.37L544.88,362.34L546.24,362.32L547.59,362.31L548.95,362.29L550.30,362.27L551.66,362.25L553.01,362.24L554.37,362.22L555.72,362.21L557.07,362.20L558.43,362.19L559.78,362.17L561.14,362.16L562.49,362.15L563.85,362.14L565.20,362.13L566.56,362.12L567.91,362.12L569.27,362.11L570.62,362.10L571.98,362.09L573.33,362.09L574.69,362.08L576.04,362.07L577.40,362.07L578.75,362.06L580.11,362.06L581.46,362.05L582.82,362.05L584.17,362.05L585.52,362.04L586.88,362.04L588.23,362.03L589.59,362.03L590.94,362.03L592.30,362.02L593.65,362.02L595.01,362.02L596.36,362.02L597.72,362.01L599.07,362.01L600.43,362.01L601.78,362.01L603.14,362.00L604.49,362.00L605.85,362.00L607.20,362.00L608.56,362.00L609.91,362.00" fill="none" stroke="#1c1c1c" stroke-width="1.15"/>
<path d="M391.95,538.40h2.4v2.4h-2.4zM392.87,533.78h2.4v2.4h-2.4zM393.79,529.03h2.4v2.4h-2.4zM394.71,524.26h2.4v2.4h-2.4zM395.63,519.50h2.4v2.4h-2.4zM396.39,514.86h2.4v2.4h-2.4zM397.15,510.22h2.4v2.4h-2.4zM397.91,505.58h2.4v2.4h-2.4zM398.67,500.94h2.4v2.4h-2.4zM399.21,497.66h2.4v2.4h-2.4zM399.75,494.40h2.4v2.4h-2.4zM400.30,491.14h2.4v2.4h-2.4zM400.84,487.88h2.4v2.4h-2.4zM401.38,484.62h2.4v2.4h-2.4zM401.92,481.36h2.4v2.4h-2.4zM402.46,478.07h2.4v2.4h-2.4zM403.00,474.76h2.4v2.4h-2.4zM403.55,471.44h2.4v2.4h-2.4zM404.09,468.13h2.4v2.4h-2.4zM404.63,464.82h2.4v2.4h-2.4zM405.17,461.50h2.4v2.4h-2.4zM405.71,458.34h2.4v2.4h-2.4zM406.47,454.06h2.4v2.4h-2.4zM407.23,449.77h2.4v2.4h-2.4zM407.99,445.49h2.4v2.4h-2.4zM408.59,441.33h2.4v2.4h-2.4zM409.18,437.10h2.4v2.4h-2.4zM409.78,432.86h2.4v2.4h-2.4zM410.65,428.66h2.4v2.4h-2.4zM411.51,424.59h2.4v2.4h-2.4zM412.38,420.52h2.4v2.4h-2.4zM413.25,416.41h2.4v2.4h-2.4zM414.11,412.28h2.4v2.4h-2.4zM414.98,408.15h2.4v2.4h-2.4zM416.06,404.19h2.4v2.4h-2.4zM417.20,400.25h2.4v2.4h-2.4zM418.34,396.31h2.4v2.4h-2.4zM419.70,392.40h2.4v2.4h-2.4zM421.16,388.52h2.4v2.4h-2.4zM422.78,384.77h2.4v2.4h-2.4zM425.49,381.59h2.4v2.4h-2.4zM427.93,379.37h2.4v2.4h-2.4zM430.80,377.70h2.4v2.4h-2.4zM433.73,376.16h2.4v2.4h-2.4zM436.87,375.01h2.4v2.4h-2.4zM440.02,373.87h2.4v2.4h-2.4zM443.27,373.13h2.4v2.4h-2.4zM446.52,372.43h2.4v2.4h-2.4zM449.77,371.72h2.4v2.4h-2.4zM453.02,371.00h2.4v2.4h-2.4zM456.27,370.29h2.4v2.4h-2.4zM459.52,369.58h2.4v2.4h-2.4zM462.78,368.87h2.4v2.4h-2.4zM466.03,368.16h2.4v2.4h-2.4zM469.33,367.61h2.4v2.4h-2.4zM472.64,367.13h2.4v2.4h-2.4zM475.94,366.65h2.4v2.4h-2.4zM479.25,366.17h2.4v2.4h-2.4zM482.56,365.69h2.4v2.4h-2.4zM485.86,365.18h2.4v2.4h-2.4zM489.11,364.59h2.4v2.4h-2.4zM492.36,363.99h2.4v2.4h-2.4zM495.62,363.36h2.4v2.4h-2.4zM498.87,362.70h2.4v2.4h-2.4zM502.17,362.40h2.4v2.4h-2.4zM505.48,362.40h2.4v2.4h-2.4zM508.78,362.46h2.4v2.4h-2.4zM513.12,363.24h2.4v2.4h-2.4zM517.51,363.78h2.4v2.4h-2.4zM521.95,363.96h2.4v2.4h-2.4zM526.40,364.15h2.4v2.4h-2.4zM530.84,364.33h2.4v2.4h-2.4zM535.28,364.43h2.4v2.4h-2.4zM539.73,364.52h2.4v2.4h-2.4zM544.17,364.60h2.4v2.4h-2.4zM548.61,364.71h2.4v2.4h-2.4zM553.06,364.90h2.4v2.4h-2.4zM557.50,365.10h2.4v2.4h-2.4zM561.94,365.30h2.4v2.4h-2.4zM566.39,365.43h2.4v2.4h-2.4zM570.83,365.54h2.4v2.4h-2.4zM575.27,365.66h2.4v2.4h-2.4zM579.72,365.61h2.4v2.4h-2.4zM584.16,365.57h2.4v2.4h-2.4zM588.61,365.53h2.4v2.4h-2.4zM593.05,365.48h2.4v2.4h-2.4zM597.49,365.44h2.4v2.4h-2.4zM601.94,365.40h2.4v2.4h-2.4zM606.38,365.35h2.4v2.4h-2.4zM608.71,365.33h2.4v2.4h-2.4z" fill="#000"/>
<path d="M393.15,310.84999999999997V539.6H664.7" fill="none" stroke="#505050" stroke-width="1.7"/>
<rect x="507.5" y="502.8" width="154.90" height="35.40" fill="#fff" stroke="#555" stroke-width="1"/>
<path d="M507.0,539.40H662.9" stroke="#262626" stroke-width="1.7"/>
<rect x="528.50" y="511.10" width="2.4" height="2.4" fill="#000"/>
<path d="M515.8,530.7H544.0" stroke="#222" stroke-width="1.2"/>
<text transform="translate(550.30,516.80) scale(0.8806,1)" font-size="12.9" text-anchor="start" fill="#111" stroke="#111" stroke-width="0.3">Data (ref. 39)</text>
<text transform="translate(550.30,535.00) scale(0.8806,1)" font-size="12.9" text-anchor="start" fill="#111" stroke="#111" stroke-width="0.3">Model (AARD=9.08%)</text>
<rect x="622.6" y="310.8" width="42.40" height="30.25" fill="#fff" stroke="#111" stroke-width="1.4"/>
<text transform="translate(633.80,333.00) scale(1.1000,1)" font-size="16.0" text-anchor="start" fill="#111" stroke="#111" stroke-width="0.3">d)</text>
</svg>
</body></html>
